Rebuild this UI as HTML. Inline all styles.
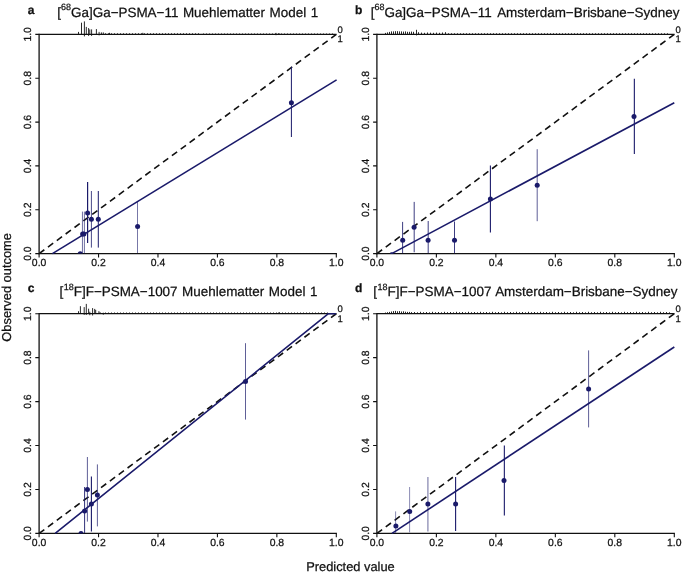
<!DOCTYPE html>
<html><head><meta charset="utf-8"><title>Calibration plots</title>
<style>
html,body{margin:0;padding:0;background:#fff;}
svg{display:block;}
text{font-family:"Liberation Sans",Arial,sans-serif;fill:#111;stroke:#111;stroke-width:0.25px;text-rendering:geometricPrecision;}
.tk{font-size:10.4px;}
.zo{font-size:9.5px;}
.tt{font-size:13.45px;word-spacing:0.8px;}
.sp{font-size:9px;}
.lt{font-size:12px;font-weight:bold;}
.ax{font-size:12.85px;}
</style></head><body>
<svg width="685" height="575" viewBox="0 0 685 575">
<rect width="685" height="575" fill="#fff"/>
<clipPath id="ca"><rect x="39.1" y="34.4" width="298.7" height="219.2"/></clipPath>
<path d="M39.1 33.8V254.2" stroke="#111" stroke-width="1.3" fill="none"/>
<path d="M38.5 253.6H336.90000000000003" stroke="#111" stroke-width="1.3" fill="none"/>
<path d="M39.1 34.4H336.6" stroke="#111" stroke-width="1.3" fill="none"/>
<path d="M35.300000000000004 253.60H39.1M39.10 253.6V257.4M35.300000000000004 209.76H39.1M98.54 253.6V257.4M35.300000000000004 165.92H39.1M157.98 253.6V257.4M35.300000000000004 122.08H39.1M217.42 253.6V257.4M35.300000000000004 78.24H39.1M276.86 253.6V257.4M35.300000000000004 34.40H39.1M336.30 253.6V257.4" stroke="#111" stroke-width="1.1" fill="none"/>
<text class="tk" x="39.10" y="265.80" text-anchor="middle">0.0</text>
<text class="tk" transform="translate(31.40 253.60) rotate(-90)" text-anchor="middle">0.0</text>
<text class="tk" x="98.54" y="265.80" text-anchor="middle">0.2</text>
<text class="tk" transform="translate(31.40 209.76) rotate(-90)" text-anchor="middle">0.2</text>
<text class="tk" x="157.98" y="265.80" text-anchor="middle">0.4</text>
<text class="tk" transform="translate(31.40 165.92) rotate(-90)" text-anchor="middle">0.4</text>
<text class="tk" x="217.42" y="265.80" text-anchor="middle">0.6</text>
<text class="tk" transform="translate(31.40 122.08) rotate(-90)" text-anchor="middle">0.6</text>
<text class="tk" x="276.86" y="265.80" text-anchor="middle">0.8</text>
<text class="tk" transform="translate(31.40 78.24) rotate(-90)" text-anchor="middle">0.8</text>
<text class="tk" x="336.30" y="265.80" text-anchor="middle">1.0</text>
<text class="tk" transform="translate(31.40 34.40) rotate(-90)" text-anchor="middle">1.0</text>
<path d="M78.50 31.90V34.40M81.50 22.70V34.40M84.40 21.40V36.40M86.30 26.90V34.40M88.60 28.10V35.90M89.80 29.40V34.40M91.60 29.40V35.90M96.40 29.10V34.40M99.10 31.90V35.40M101.40 32.40V34.40M103.30 32.40V34.40M109.50 32.80V34.40M142.80 32.80V34.40M276.00 32.90V35.20M279.00 33.20V34.40M105.50 33.30V34.40M108.50 33.30V34.40M111.50 33.30V34.40M114.50 33.30V34.40M117.50 33.30V34.40M120.50 33.30V34.40M123.50 33.30V34.40M126.50 33.30V34.40M129.50 33.30V34.40M132.50 33.30V34.40M135.50 33.30V34.40M138.50 33.30V34.40M141.50 33.30V34.40M144.50 33.30V34.40M147.50 33.30V34.40M150.50 33.30V34.40M153.50 33.30V34.40M156.50 33.30V34.40M159.50 33.30V34.40M162.50 33.30V34.40M165.50 33.30V34.40M168.50 33.30V34.40M171.50 33.30V34.40M174.50 33.30V34.40M177.50 33.30V34.40M180.50 33.30V34.40M183.50 33.30V34.40M186.50 33.30V34.40M189.50 33.30V34.40M192.50 33.30V34.40M195.50 33.30V34.40M198.50 33.30V34.40M203.50 33.50V34.40M206.50 33.50V34.40M209.50 33.50V34.40M212.50 33.50V34.40M215.50 33.50V34.40M218.50 33.50V34.40M221.50 33.50V34.40M224.50 33.50V34.40M227.50 33.50V34.40M230.50 33.50V34.40M233.50 33.50V34.40M236.50 33.50V34.40M239.50 33.50V34.40M242.50 33.50V34.40M245.50 33.50V34.40M248.50 33.50V34.40M251.50 33.50V34.40M254.50 33.50V34.40M257.50 33.50V34.40M260.50 33.50V34.40M263.50 33.50V34.40M266.50 33.50V34.40M269.50 33.50V34.40M272.50 33.50V34.40M275.50 33.50V34.40M278.50 33.50V34.40M281.50 33.50V34.40M284.50 33.50V34.40M287.50 33.50V34.40M290.50 33.50V34.40M293.50 33.50V34.40M296.50 33.50V34.40M299.50 33.50V34.40M302.50 33.50V34.40M305.50 33.50V34.40M308.50 33.50V34.40M311.50 33.50V34.40M314.50 33.50V34.40M317.50 33.50V34.40M320.50 33.50V34.40M323.50 33.50V34.40M326.50 33.50V34.40M329.50 33.50V34.40M332.50 33.50V34.40" stroke="#111" stroke-width="0.9" fill="none"/>
<text class="zo" x="337.5" y="32.9">0</text>
<text class="zo" x="337.5" y="42.3">1</text>
<path d="M39.1 253.6L336.3 34.4" stroke="#111" stroke-width="1.6" stroke-dasharray="6.5 4.5" fill="none" clip-path="url(#ca)"/>
<path d="M52.4 253.6L336.6 79.9" stroke="#1a1a6a" stroke-width="1.6" fill="none" stroke-linejoin="round"/>
<g clip-path="url(#ca)"><circle cx="80.2" cy="253.8" r="2.5" fill="#1a1a6a"/><path d="M82.45 211.6V253.4" stroke="#1a1a6a" stroke-width="0.7" stroke-opacity="0.9" fill="none"/><circle cx="82.6" cy="234" r="2.5" fill="#1a1a6a"/><path d="M84.4 211.6V253.4" stroke="#1a1a6a" stroke-width="0.7" stroke-opacity="0.9" fill="none"/><circle cx="83.9" cy="234" r="2.5" fill="#1a1a6a"/><path d="M87.6 182V243" stroke="#1a1a6a" stroke-width="1.2" stroke-opacity="1" fill="none"/><circle cx="87.6" cy="212.9" r="2.5" fill="#1a1a6a"/><path d="M91.4 191V247.6" stroke="#1a1a6a" stroke-width="0.8" stroke-opacity="1" fill="none"/><circle cx="91.4" cy="219.3" r="2.5" fill="#1a1a6a"/><path d="M98.3 191V247.6" stroke="#1a1a6a" stroke-width="1.0" stroke-opacity="1" fill="none"/><circle cx="98.3" cy="219.3" r="2.5" fill="#1a1a6a"/><path d="M137.5 201V253" stroke="#1a1a6a" stroke-width="0.7" stroke-opacity="0.85" fill="none"/><circle cx="137.6" cy="226.4" r="2.5" fill="#1a1a6a"/><path d="M291.4 66.8V137" stroke="#1a1a6a" stroke-width="1.0" stroke-opacity="1" fill="none"/><circle cx="291.4" cy="102.8" r="2.5" fill="#1a1a6a"/></g>
<text class="lt" x="27.8" y="14.0">a</text>
<text class="tt" x="57.3" y="16.9">[<tspan class="sp" dy="-7.3" dx="0">68</tspan><tspan dy="7.3">Ga]Ga−PSMA−11 Muehlematter Model 1</tspan></text>
<clipPath id="cb"><rect x="376.9" y="34.4" width="298.9" height="219.2"/></clipPath>
<path d="M376.9 33.8V254.2" stroke="#111" stroke-width="1.3" fill="none"/>
<path d="M376.29999999999995 253.6H674.9" stroke="#111" stroke-width="1.3" fill="none"/>
<path d="M376.9 34.4H674.5999999999999" stroke="#111" stroke-width="1.3" fill="none"/>
<path d="M373.09999999999997 253.60H376.9M376.90 253.6V257.4M373.09999999999997 209.76H376.9M436.38 253.6V257.4M373.09999999999997 165.92H376.9M495.86 253.6V257.4M373.09999999999997 122.08H376.9M555.34 253.6V257.4M373.09999999999997 78.24H376.9M614.82 253.6V257.4M373.09999999999997 34.40H376.9M674.30 253.6V257.4" stroke="#111" stroke-width="1.1" fill="none"/>
<text class="tk" x="376.90" y="265.80" text-anchor="middle">0.0</text>
<text class="tk" transform="translate(369.20 253.60) rotate(-90)" text-anchor="middle">0.0</text>
<text class="tk" x="436.38" y="265.80" text-anchor="middle">0.2</text>
<text class="tk" transform="translate(369.20 209.76) rotate(-90)" text-anchor="middle">0.2</text>
<text class="tk" x="495.86" y="265.80" text-anchor="middle">0.4</text>
<text class="tk" transform="translate(369.20 165.92) rotate(-90)" text-anchor="middle">0.4</text>
<text class="tk" x="555.34" y="265.80" text-anchor="middle">0.6</text>
<text class="tk" transform="translate(369.20 122.08) rotate(-90)" text-anchor="middle">0.6</text>
<text class="tk" x="614.82" y="265.80" text-anchor="middle">0.8</text>
<text class="tk" transform="translate(369.20 78.24) rotate(-90)" text-anchor="middle">0.8</text>
<text class="tk" x="674.30" y="265.80" text-anchor="middle">1.0</text>
<text class="tk" transform="translate(369.20 34.40) rotate(-90)" text-anchor="middle">1.0</text>
<path d="M385.50 32.90V34.40M387.50 32.40V34.40M389.50 31.90V34.40M391.50 31.40V34.40M393.50 31.40V34.40M395.50 31.20V34.40M397.50 31.20V34.40M399.50 31.40V34.40M401.50 31.40V34.40M403.50 31.60V34.40M405.50 31.40V34.40M407.50 31.80V34.40M409.50 31.80V34.40M411.50 31.60V34.40M413.50 31.80V34.40M416.50 29.80V35.40M418.50 32.20V34.40M421.50 32.60V34.40M424.50 32.80V34.40M427.50 32.50V34.40M430.50 32.70V34.40M433.50 32.80V34.40M436.50 32.60V34.40M439.50 32.80V34.40M442.50 32.50V34.40M445.50 32.20V34.40M448.50 33.30V34.40M451.50 33.30V34.40M454.50 33.30V34.40M457.50 33.30V34.40M460.50 33.30V34.40M463.50 33.30V34.40M466.50 33.30V34.40M469.50 33.30V34.40M472.50 33.30V34.40M475.50 33.30V34.40M478.50 33.30V34.40M481.50 33.30V34.40M484.50 33.30V34.40M487.50 33.30V34.40M490.50 33.30V34.40M493.50 33.30V34.40M496.50 33.30V34.40M499.50 33.30V34.40M502.50 33.30V34.40M505.50 33.30V34.40M508.50 33.30V34.40M511.50 33.30V34.40M514.50 33.30V34.40M517.50 33.30V34.40M520.50 33.30V34.40M523.50 33.30V34.40M526.50 33.30V34.40M529.50 33.30V34.40M532.50 33.30V34.40M535.50 33.30V34.40M538.50 33.30V34.40M541.50 33.30V34.40M544.50 33.30V34.40M547.50 33.30V34.40M550.50 33.30V34.40M553.50 33.30V34.40M556.50 33.30V34.40M559.50 33.30V34.40M562.50 33.30V34.40M565.50 33.30V34.40M568.50 33.30V34.40M571.50 33.30V34.40M574.50 33.30V34.40M577.50 33.30V34.40M580.50 33.30V34.40M583.50 33.30V34.40M586.50 33.30V34.40M589.50 33.30V34.40M592.50 33.30V34.40M595.50 33.30V34.40M598.50 33.30V34.40M601.50 33.30V34.40M604.50 33.30V34.40M607.50 33.30V34.40M610.50 33.30V34.40M613.50 33.30V34.40M616.50 33.30V34.40M619.50 33.30V34.40M622.50 33.30V34.40M625.50 33.30V34.40M628.50 33.30V34.40M631.50 33.30V34.40M634.50 33.30V34.40M637.50 33.30V34.40M640.50 33.30V34.40M643.50 33.30V34.40M646.50 33.30V34.40M649.50 33.30V34.40M652.50 33.30V34.40M655.50 33.30V34.40M658.50 33.30V34.40M661.50 33.30V34.40M664.50 33.30V34.40M667.50 33.30V34.40" stroke="#111" stroke-width="0.9" fill="none"/>
<text class="zo" x="675.5" y="32.9">0</text>
<text class="zo" x="675.5" y="42.3">1</text>
<path d="M376.9 253.6L674.3 34.4" stroke="#111" stroke-width="1.6" stroke-dasharray="6.5 4.5" fill="none" clip-path="url(#cb)"/>
<path d="M390.4 253.1L392.6 253.1L674.3 102.8" stroke="#1a1a6a" stroke-width="1.6" fill="none" stroke-linejoin="round"/>
<g clip-path="url(#cb)"><path d="M402.6 221.9V253.4" stroke="#1a1a6a" stroke-width="0.85" stroke-opacity="1" fill="none"/><circle cx="402.7" cy="240.2" r="2.5" fill="#1a1a6a"/><path d="M414.2 201.9V252.25" stroke="#1a1a6a" stroke-width="0.85" stroke-opacity="1" fill="none"/><circle cx="414.1" cy="227.25" r="2.5" fill="#1a1a6a"/><path d="M428.2 221V253.4" stroke="#1a1a6a" stroke-width="0.85" stroke-opacity="1" fill="none"/><circle cx="428.1" cy="240.2" r="2.5" fill="#1a1a6a"/><path d="M454.5 221.5V253.4" stroke="#1a1a6a" stroke-width="0.85" stroke-opacity="1" fill="none"/><circle cx="454.5" cy="240.2" r="2.5" fill="#1a1a6a"/><path d="M490.4 165.6V232.4" stroke="#1a1a6a" stroke-width="1.1" stroke-opacity="1" fill="none"/><circle cx="490.4" cy="199" r="2.5" fill="#1a1a6a"/><path d="M537.2 149.2V221.2" stroke="#1a1a6a" stroke-width="0.7" stroke-opacity="1" fill="none"/><circle cx="537.2" cy="185.2" r="2.5" fill="#1a1a6a"/><path d="M634.35 78.8V153.9" stroke="#1a1a6a" stroke-width="1.1" stroke-opacity="1" fill="none"/><circle cx="634" cy="116.4" r="2.5" fill="#1a1a6a"/></g>
<text class="lt" x="355.1" y="14.0">b</text>
<text class="tt" x="370.7" y="16.9">[<tspan class="sp" dy="-7.3" dx="0">68</tspan><tspan dy="7.3">Ga]Ga−PSMA−11 <tspan dx="1.6">Amsterdam−Brisbane−Sydney</tspan></tspan></text>
<clipPath id="cc"><rect x="39.1" y="313.7" width="298.7" height="219.7"/></clipPath>
<path d="M39.1 313.09999999999997V534.0" stroke="#111" stroke-width="1.3" fill="none"/>
<path d="M38.5 533.4H336.90000000000003" stroke="#111" stroke-width="1.3" fill="none"/>
<path d="M39.1 313.7H336.6" stroke="#111" stroke-width="1.3" fill="none"/>
<path d="M35.300000000000004 533.40H39.1M39.10 533.4V537.1999999999999M35.300000000000004 489.46H39.1M98.54 533.4V537.1999999999999M35.300000000000004 445.52H39.1M157.98 533.4V537.1999999999999M35.300000000000004 401.58H39.1M217.42 533.4V537.1999999999999M35.300000000000004 357.64H39.1M276.86 533.4V537.1999999999999M35.300000000000004 313.70H39.1M336.30 533.4V537.1999999999999" stroke="#111" stroke-width="1.1" fill="none"/>
<text class="tk" x="39.10" y="545.60" text-anchor="middle">0.0</text>
<text class="tk" transform="translate(31.40 533.40) rotate(-90)" text-anchor="middle">0.0</text>
<text class="tk" x="98.54" y="545.60" text-anchor="middle">0.2</text>
<text class="tk" transform="translate(31.40 489.46) rotate(-90)" text-anchor="middle">0.2</text>
<text class="tk" x="157.98" y="545.60" text-anchor="middle">0.4</text>
<text class="tk" transform="translate(31.40 445.52) rotate(-90)" text-anchor="middle">0.4</text>
<text class="tk" x="217.42" y="545.60" text-anchor="middle">0.6</text>
<text class="tk" transform="translate(31.40 401.58) rotate(-90)" text-anchor="middle">0.6</text>
<text class="tk" x="276.86" y="545.60" text-anchor="middle">0.8</text>
<text class="tk" transform="translate(31.40 357.64) rotate(-90)" text-anchor="middle">0.8</text>
<text class="tk" x="336.30" y="545.60" text-anchor="middle">1.0</text>
<text class="tk" transform="translate(31.40 313.70) rotate(-90)" text-anchor="middle">1.0</text>
<path d="M78.50 311.20V313.70M80.40 306.20V313.70M84.20 307.10V314.90M86.30 303.90V314.90M88.60 308.70V313.70M89.80 311.70V315.20M92.60 308.10V315.50M94.70 308.90V313.70M95.70 309.90V313.70M98.90 311.20V313.70M100.10 312.20V313.70M103.30 312.70V314.70M279.00 312.10V313.70M105.50 312.50V313.70M108.50 312.50V313.70M111.50 312.50V313.70M114.50 312.50V313.70M117.50 312.50V313.70M120.50 312.50V313.70M123.50 312.50V313.70M126.50 312.50V313.70M129.50 312.50V313.70M132.50 312.50V313.70M135.50 312.50V313.70M138.50 312.50V313.70M141.50 312.50V313.70M144.50 312.50V313.70M147.50 312.50V313.70M150.50 312.50V313.70M153.50 312.50V313.70M156.50 312.50V313.70M159.50 312.50V313.70M162.50 312.50V313.70M165.50 312.50V313.70M168.50 312.50V313.70M171.50 312.50V313.70M174.50 312.50V313.70M177.50 312.50V313.70M180.50 312.50V313.70M183.50 312.50V313.70M186.50 312.50V313.70M189.50 312.50V313.70M192.50 312.50V313.70M195.50 312.50V313.70M198.50 312.50V313.70M201.50 312.50V313.70M204.50 312.50V313.70M207.50 312.50V313.70M210.50 312.50V313.70M213.50 312.50V313.70M216.50 312.50V313.70M219.50 312.50V313.70M222.50 312.50V313.70M225.50 312.50V313.70M228.50 312.50V313.70M231.50 312.50V313.70M234.50 312.50V313.70M237.50 312.50V313.70M240.50 312.50V313.70M243.50 312.50V313.70M246.50 312.50V313.70M249.50 312.50V313.70M252.50 312.50V313.70M255.50 312.50V313.70M258.50 312.50V313.70M261.50 312.50V313.70M264.50 312.50V313.70M267.50 312.50V313.70M270.50 312.50V313.70M273.50 312.50V313.70M276.50 312.50V313.70M279.50 312.50V313.70M282.50 312.50V313.70M285.50 312.50V313.70M288.50 312.50V313.70M291.50 312.50V313.70M294.50 312.50V313.70M297.50 312.50V313.70M300.50 312.50V313.70M303.50 312.50V313.70M306.50 312.50V313.70M309.50 312.50V313.70M312.50 312.50V313.70M315.50 312.50V313.70M318.50 312.50V313.70M321.50 312.50V313.70M324.50 312.50V313.70M327.50 312.50V313.70" stroke="#111" stroke-width="0.9" fill="none"/>
<text class="zo" x="337.5" y="312.2">0</text>
<text class="zo" x="337.5" y="321.59999999999997">1</text>
<path d="M39.1 533.4L336.3 313.7" stroke="#111" stroke-width="1.6" stroke-dasharray="6.5 4.5" fill="none" clip-path="url(#cc)"/>
<path d="M55.2 533.4L328.4 313.7L336 313.7" stroke="#1a1a6a" stroke-width="1.6" fill="none" stroke-linejoin="round"/>
<g clip-path="url(#cc)"><circle cx="81" cy="533.6" r="2.5" fill="#1a1a6a"/><path d="M84.6 487V533" stroke="#1a1a6a" stroke-width="0.9" stroke-opacity="1" fill="none"/><circle cx="84.6" cy="511" r="2.5" fill="#1a1a6a"/><path d="M87.4 457V521.6" stroke="#1a1a6a" stroke-width="0.7" stroke-opacity="1" fill="none"/><circle cx="87.4" cy="489.4" r="2.5" fill="#1a1a6a"/><path d="M91.4 476.6V531.6" stroke="#1a1a6a" stroke-width="1.1" stroke-opacity="1" fill="none"/><circle cx="91.4" cy="504" r="2.5" fill="#1a1a6a"/><path d="M97.4 464.4V526.4" stroke="#1a1a6a" stroke-width="0.7" stroke-opacity="1" fill="none"/><circle cx="97.4" cy="495" r="2.5" fill="#1a1a6a"/><path d="M245.5 343.2V419.6" stroke="#1a1a6a" stroke-width="0.7" stroke-opacity="1" fill="none"/><circle cx="245.5" cy="381.4" r="2.5" fill="#1a1a6a"/></g>
<text class="lt" x="27.8" y="291.6">c</text>
<text class="tt" x="59.5" y="295.7">[<tspan class="sp" dy="-6.2" dx="0.5">18</tspan><tspan dy="6.2">F]F−PSMA−1007 Muehlematter Model 1</tspan></text>
<clipPath id="cd"><rect x="376.9" y="313.7" width="298.9" height="219.7"/></clipPath>
<path d="M376.9 313.09999999999997V534.0" stroke="#111" stroke-width="1.3" fill="none"/>
<path d="M376.29999999999995 533.4H674.9" stroke="#111" stroke-width="1.3" fill="none"/>
<path d="M376.9 313.7H674.5999999999999" stroke="#111" stroke-width="1.3" fill="none"/>
<path d="M373.09999999999997 533.40H376.9M376.90 533.4V537.1999999999999M373.09999999999997 489.46H376.9M436.38 533.4V537.1999999999999M373.09999999999997 445.52H376.9M495.86 533.4V537.1999999999999M373.09999999999997 401.58H376.9M555.34 533.4V537.1999999999999M373.09999999999997 357.64H376.9M614.82 533.4V537.1999999999999M373.09999999999997 313.70H376.9M674.30 533.4V537.1999999999999" stroke="#111" stroke-width="1.1" fill="none"/>
<text class="tk" x="376.90" y="545.60" text-anchor="middle">0.0</text>
<text class="tk" transform="translate(369.20 533.40) rotate(-90)" text-anchor="middle">0.0</text>
<text class="tk" x="436.38" y="545.60" text-anchor="middle">0.2</text>
<text class="tk" transform="translate(369.20 489.46) rotate(-90)" text-anchor="middle">0.2</text>
<text class="tk" x="495.86" y="545.60" text-anchor="middle">0.4</text>
<text class="tk" transform="translate(369.20 445.52) rotate(-90)" text-anchor="middle">0.4</text>
<text class="tk" x="555.34" y="545.60" text-anchor="middle">0.6</text>
<text class="tk" transform="translate(369.20 401.58) rotate(-90)" text-anchor="middle">0.6</text>
<text class="tk" x="614.82" y="545.60" text-anchor="middle">0.8</text>
<text class="tk" transform="translate(369.20 357.64) rotate(-90)" text-anchor="middle">0.8</text>
<text class="tk" x="674.30" y="545.60" text-anchor="middle">1.0</text>
<text class="tk" transform="translate(369.20 313.70) rotate(-90)" text-anchor="middle">1.0</text>
<path d="M385.50 312.50V313.70M387.50 312.20V313.70M389.50 311.90V313.70M391.50 311.50V313.70M393.50 311.10V313.70M395.50 310.90V313.70M397.50 311.30V313.70M399.50 311.10V313.70M401.50 311.50V313.70M403.50 311.30V313.70M405.50 311.70V313.70M407.50 311.90V313.70M409.50 311.90V313.70M411.50 312.10V313.70M414.50 312.00V313.70M417.50 312.30V313.70M420.50 311.80V313.70M423.50 312.20V313.70M426.50 312.00V313.70M429.50 312.30V313.70M432.50 311.80V313.70M435.50 312.20V313.70M438.50 312.00V313.70M441.50 312.30V313.70M444.50 311.80V313.70M447.50 312.20V313.70M450.50 312.00V313.70M453.50 312.30V313.70M456.50 311.80V313.70M459.50 312.20V313.70M462.50 312.00V313.70M465.50 312.30V313.70M468.50 311.80V313.70M471.50 312.20V313.70M474.50 312.00V313.70M477.50 312.30V313.70M480.50 311.80V313.70M483.50 312.20V313.70M486.50 312.00V313.70M489.50 312.30V313.70M492.50 311.80V313.70M495.50 312.20V313.70M498.50 312.00V313.70M501.50 312.30V313.70M504.50 311.80V313.70M507.50 312.20V313.70M510.50 312.00V313.70M513.50 312.30V313.70M516.50 311.80V313.70M519.50 312.20V313.70M522.50 312.00V313.70M525.50 312.30V313.70M528.50 311.80V313.70M531.50 312.20V313.70M534.50 312.00V313.70M537.50 312.30V313.70M540.50 311.80V313.70M543.50 312.20V313.70M546.50 312.00V313.70M549.50 312.30V313.70M552.50 311.80V313.70M555.50 312.20V313.70M558.50 312.00V313.70M561.50 312.30V313.70M564.50 311.80V313.70M567.50 312.20V313.70M570.50 312.00V313.70M573.50 312.30V313.70M576.50 311.80V313.70M579.50 312.20V313.70M582.50 312.00V313.70M585.50 312.30V313.70M588.50 311.80V313.70M591.50 312.20V313.70M594.50 312.00V313.70M597.50 312.30V313.70M600.50 311.80V313.70M603.50 312.20V313.70M606.50 312.00V313.70M609.50 312.30V313.70M612.50 311.80V313.70M615.50 312.20V313.70M618.50 312.00V313.70M621.50 312.30V313.70M624.50 311.80V313.70M627.50 312.20V313.70M630.50 312.00V313.70M633.50 312.30V313.70M636.50 311.80V313.70M639.50 312.20V313.70M642.50 312.00V313.70M645.50 312.30V313.70M648.50 311.80V313.70M651.50 312.20V313.70M654.50 312.00V313.70M657.50 312.30V313.70M660.50 311.80V313.70M663.50 312.20V313.70M666.50 312.00V313.70M669.50 312.30V313.70" stroke="#111" stroke-width="0.9" fill="none"/>
<text class="zo" x="675.5" y="312.2">0</text>
<text class="zo" x="675.5" y="321.59999999999997">1</text>
<path d="M376.9 533.4L674.3 313.7" stroke="#111" stroke-width="1.6" stroke-dasharray="6.5 4.5" fill="none" clip-path="url(#cd)"/>
<path d="M392 533.4L674.3 347.0" stroke="#1a1a6a" stroke-width="1.6" fill="none" stroke-linejoin="round"/>
<g clip-path="url(#cd)"><path d="M395.6 511.4V533" stroke="#1a1a6a" stroke-width="1.0" stroke-opacity="0.5" fill="none"/><circle cx="395.9" cy="526" r="2.5" fill="#1a1a6a"/><path d="M409.6 487V532.3" stroke="#1a1a6a" stroke-width="1.0" stroke-opacity="0.5" fill="none"/><circle cx="409.7" cy="511.4" r="2.5" fill="#1a1a6a"/><path d="M427.9 476.9V531.5" stroke="#1a1a6a" stroke-width="1.3" stroke-opacity="0.5" fill="none"/><circle cx="427.9" cy="503.9" r="2.5" fill="#1a1a6a"/><path d="M455.6 476.9V530.9" stroke="#1a1a6a" stroke-width="1.1" stroke-opacity="1" fill="none"/><circle cx="455.6" cy="503.9" r="2.5" fill="#1a1a6a"/><path d="M504.35 445.6V515.6" stroke="#1a1a6a" stroke-width="1.1" stroke-opacity="1" fill="none"/><circle cx="504" cy="480.6" r="2.5" fill="#1a1a6a"/><path d="M588.6 350.4V427.4" stroke="#1a1a6a" stroke-width="0.7" stroke-opacity="1" fill="none"/><circle cx="588.6" cy="388.9" r="2.5" fill="#1a1a6a"/></g>
<text class="lt" x="355.1" y="291.8">d</text>
<text class="tt" x="373.3" y="295.7">[<tspan class="sp" dy="-6.2" dx="0.5">18</tspan><tspan dy="6.2">F]F−PSMA−1007 Amsterdam−Brisbane−Sydney</tspan></text>
<text class="ax" transform="translate(11.1 287.4) rotate(-90)" text-anchor="middle">Observed outcome</text>
<text class="ax" x="350.5" y="571.2" text-anchor="middle">Predicted value</text>
</svg>
</body></html>
